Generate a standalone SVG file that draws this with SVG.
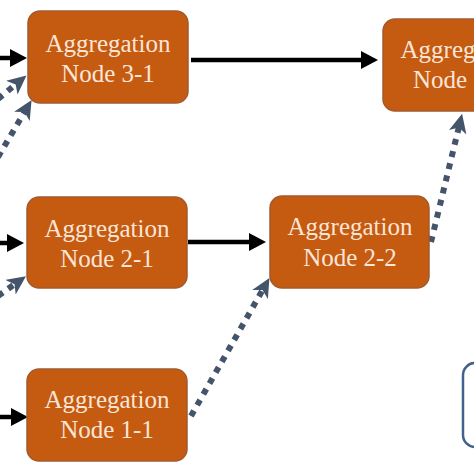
<svg xmlns="http://www.w3.org/2000/svg" width="474" height="474" viewBox="0 0 474 474">
<style>
.node rect{fill:#c55a11;stroke:#a35a2e;stroke-width:1.5}
.node text{font-family:"Liberation Serif","Times New Roman",serif;font-size:25px;fill:#fbe5d6;text-anchor:middle}
.solid{stroke:#000;stroke-width:4.5;fill:none;marker-end:url(#ah)}
.dot{stroke:#44546a;stroke-width:6;stroke-dasharray:6 6.5;fill:none;marker-end:url(#st)}
</style>
<defs>
<marker id="ah" markerUnits="userSpaceOnUse" markerWidth="18" markerHeight="18" refX="6" refY="9" orient="auto">
<path d="M0,0 L17,9 L0,18 z" fill="#000"/>
</marker>
<marker id="st" markerUnits="userSpaceOnUse" markerWidth="20" markerHeight="18" refX="8" refY="9" orient="auto">
<path d="M0,0 L19,9 L0,18 L5,9 z" fill="#44546a"/>
</marker>
</defs>
<rect width="474" height="474" fill="#fff"/>
<g id="connectors">
<line class="solid" x1="-5" y1="58" x2="16" y2="58"/>
<line class="solid" x1="191" y1="60" x2="367" y2="60"/>
<line class="solid" x1="-5" y1="243" x2="13" y2="243"/>
<line class="solid" x1="188" y1="242" x2="255" y2="242"/>
<line class="solid" x1="-5" y1="417" x2="17" y2="417"/>
<path class="dot" d="M-2,99 L18,82.5"/>
<path class="dot" d="M-2,157 L26,109.5"/>
<path class="dot" d="M-2,296 L17,282.5"/>
<path class="dot" d="M191,416 L264,287.5"/>
<path class="dot" d="M431,242 L459.5,124.5"/>
</g>
<g id="node-3-1" class="node">
<rect x="28" y="11" width="160" height="92" rx="12"/>
<text x="108" y="52">Aggregation</text>
<text x="108" y="82">Node 3-1</text>
</g>
<g id="node-4-1" class="node">
<rect x="383" y="19" width="160" height="92" rx="12"/>
<text x="463" y="58">Aggregation</text>
<text x="413" y="88" style="text-anchor:start">Node</text>
</g>
<g id="node-2-1" class="node">
<rect x="27" y="197" width="160" height="91" rx="12"/>
<text x="107" y="237">Aggregation</text>
<text x="107" y="267">Node 2-1</text>
</g>
<g id="node-2-2" class="node">
<rect x="270" y="196" width="159" height="92" rx="12"/>
<text x="350" y="235">Aggregation</text>
<text x="350" y="266">Node 2-2</text>
</g>
<g id="node-1-1" class="node">
<rect x="27" y="369" width="160" height="92" rx="12"/>
<text x="107" y="408">Aggregation</text>
<text x="107" y="438">Node 1-1</text>
</g>
<g id="legend-box">
<rect x="463" y="363" width="40" height="84" rx="12" fill="#fff" stroke="#41618f" stroke-width="2.5"/>
</g>
</svg>
